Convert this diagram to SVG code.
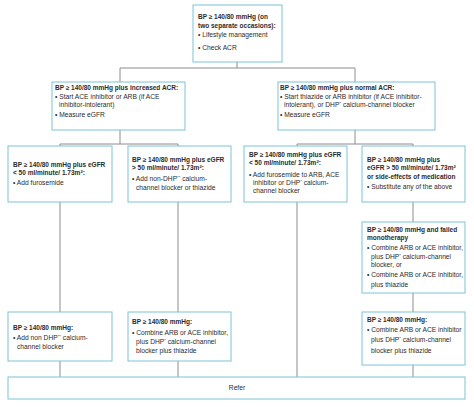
<svg xmlns="http://www.w3.org/2000/svg" width="474" height="407" viewBox="0 0 474 407">
<style>
.box{fill:#ffffff;stroke:#7cc3d8;stroke-width:1}
.ln{fill:none;stroke:#8c8c8c;stroke-width:1}
text{font-family:"Liberation Sans","Noto Sans",Arial,sans-serif;font-size:6.7px;fill:#2b2b2b}
.b{font-weight:bold;font-size:6.5px}
.sup{font-size:4.2px;baseline-shift:super}
</style>
<rect width="474" height="407" fill="#ffffff"/>
<g id="connectors">
<path class="ln" d="M237,62V68M120,68H355M120,68V82M355,68V82"/>
<path class="ln" d="M120,130V144M60,144H178M60,144V146M178,144V146"/>
<path class="ln" d="M355,130V144M297,144H413M297,144V146M413,144V146"/>
<path class="ln" d="M60,202V312M178,202V312M297,202V377M413,202V222M413,293V312M413,365V377M60,361V377M178,361V377"/>
</g>
<g id="n1">
<rect class="box" x="193" y="5" width="89" height="57"/>
<text x="198" y="19" class="b">BP ≥ 140/80 mmHg (on</text>
<text x="198" y="28" class="b">two separate occasions):</text>
<text x="198" y="37">•  Lifestyle management</text>
<text x="198" y="50">•  Check ACR</text>
</g>
<g id="n2">
<rect class="box" x="52" y="82" width="133" height="48"/>
<text x="55" y="89.5" class="b">BP ≥ 140/80 mmHg plus increased ACR:</text>
<text x="55" y="99">•  Start ACE inhibitor or ARB (if ACE</text>
<text x="59" y="106.5">inhibitor-intolerant)</text>
<text x="55" y="117">•  Measure eGFR</text>
</g>
<g id="n3">
<rect class="box" x="278" y="82" width="157" height="48"/>
<text x="280" y="89.5" class="b">BP ≥ 140/80 mmHg plus normal ACR:</text>
<text x="280" y="99">•  Start thiazide or ARB inhibitor (if ACE inhibitor-</text>
<text x="284" y="106.5">intolerant), or DHP<tspan class="sup">*</tspan> calcium-channel blocker</text>
<text x="280" y="117">•  Measure eGFR</text>
</g>
<g id="n4">
<rect class="box" x="8" y="146" width="104" height="56"/>
<text x="13" y="167" class="b">BP ≥ 140/80 mmHg plus eGFR</text>
<text x="13" y="175" class="b">&lt; 50 ml/minute/ 1.73m<tspan class="sup">2</tspan>:</text>
<text x="13" y="185">•  Add furosemide</text>
</g>
<g id="n5">
<rect class="box" x="128" y="146" width="103" height="56"/>
<text x="132" y="162" class="b">BP ≥ 140/80 mmHg plus eGFR</text>
<text x="132" y="170" class="b">&gt; 50 ml/minute/ 1.73m<tspan class="sup">2</tspan>:</text>
<text x="132" y="181">•  Add non-DHP<tspan class="sup">**</tspan> calcium-</text>
<text x="136" y="190">channel blocker or thiazide</text>
</g>
<g id="n6">
<rect class="box" x="244" y="146" width="103" height="56"/>
<text x="249" y="157" class="b">BP ≥ 140/80 mmHg plus eGFR</text>
<text x="249" y="165" class="b">&lt; 50 ml/minute/ 1.73m<tspan class="sup">2</tspan>:</text>
<text x="249" y="177">•  Add furosemide to ARB, ACE</text>
<text x="253" y="185">inhibitor or DHP<tspan class="sup">*</tspan> calcium-</text>
<text x="253" y="192.5">channel blocker</text>
</g>
<g id="n7">
<rect class="box" x="362" y="146" width="103" height="56"/>
<text x="367" y="162" class="b">BP ≥ 140/80 mmHg plus</text>
<text x="367" y="170" class="b">eGFR &gt; 50 ml/minute/ 1.73m<tspan class="sup">2</tspan></text>
<text x="367" y="179" class="b">or side-effects of medication</text>
<text x="367" y="189">•  Substitute any of the above</text>
</g>
<g id="n8">
<rect class="box" x="362" y="222" width="103" height="71"/>
<text x="367" y="232" class="b">BP ≥ 140/80 mmHg and failed</text>
<text x="367" y="240" class="b">monotherapy</text>
<text x="367" y="250">•  Combine ARB or ACE inhibitor,</text>
<text x="371" y="259">plus DHP<tspan class="sup">*</tspan> calcium-channel</text>
<text x="371" y="267">blocker, or</text>
<text x="367" y="277">•  Combine ARB or ACE inhibitor,</text>
<text x="371" y="287">plus thiazide</text>
</g>
<g id="n9">
<rect class="box" x="362" y="312" width="103" height="53"/>
<text x="367" y="322" class="b">BP ≥ 140/80 mmHg:</text>
<text x="367" y="332">•  Combine ARB or ACE inhibitor</text>
<text x="371" y="342">plus DHP<tspan class="sup">*</tspan> calcium-channel</text>
<text x="371" y="353">blocker plus thiazide</text>
</g>
<g id="n10">
<rect class="box" x="8" y="312" width="104" height="49"/>
<text x="13" y="330" class="b">BP ≥ 140/80 mmHg:</text>
<text x="13" y="340">•  Add non DHP<tspan class="sup">**</tspan> calcium-</text>
<text x="17" y="349">channel blocker</text>
</g>
<g id="n11">
<rect class="box" x="128" y="312" width="103" height="49"/>
<text x="132" y="324" class="b">BP ≥ 140/80 mmHg:</text>
<text x="132" y="335">•  Combine ARB or ACE inhibitor,</text>
<text x="136" y="344">plus DHP<tspan class="sup">*</tspan> calcium-channel</text>
<text x="136" y="353">blocker plus thiazide</text>
</g>
<g id="n12">
<rect class="box" x="8" y="377" width="457" height="22"/>
<text x="237" y="390" text-anchor="middle">Refer</text>
</g>
</svg>
